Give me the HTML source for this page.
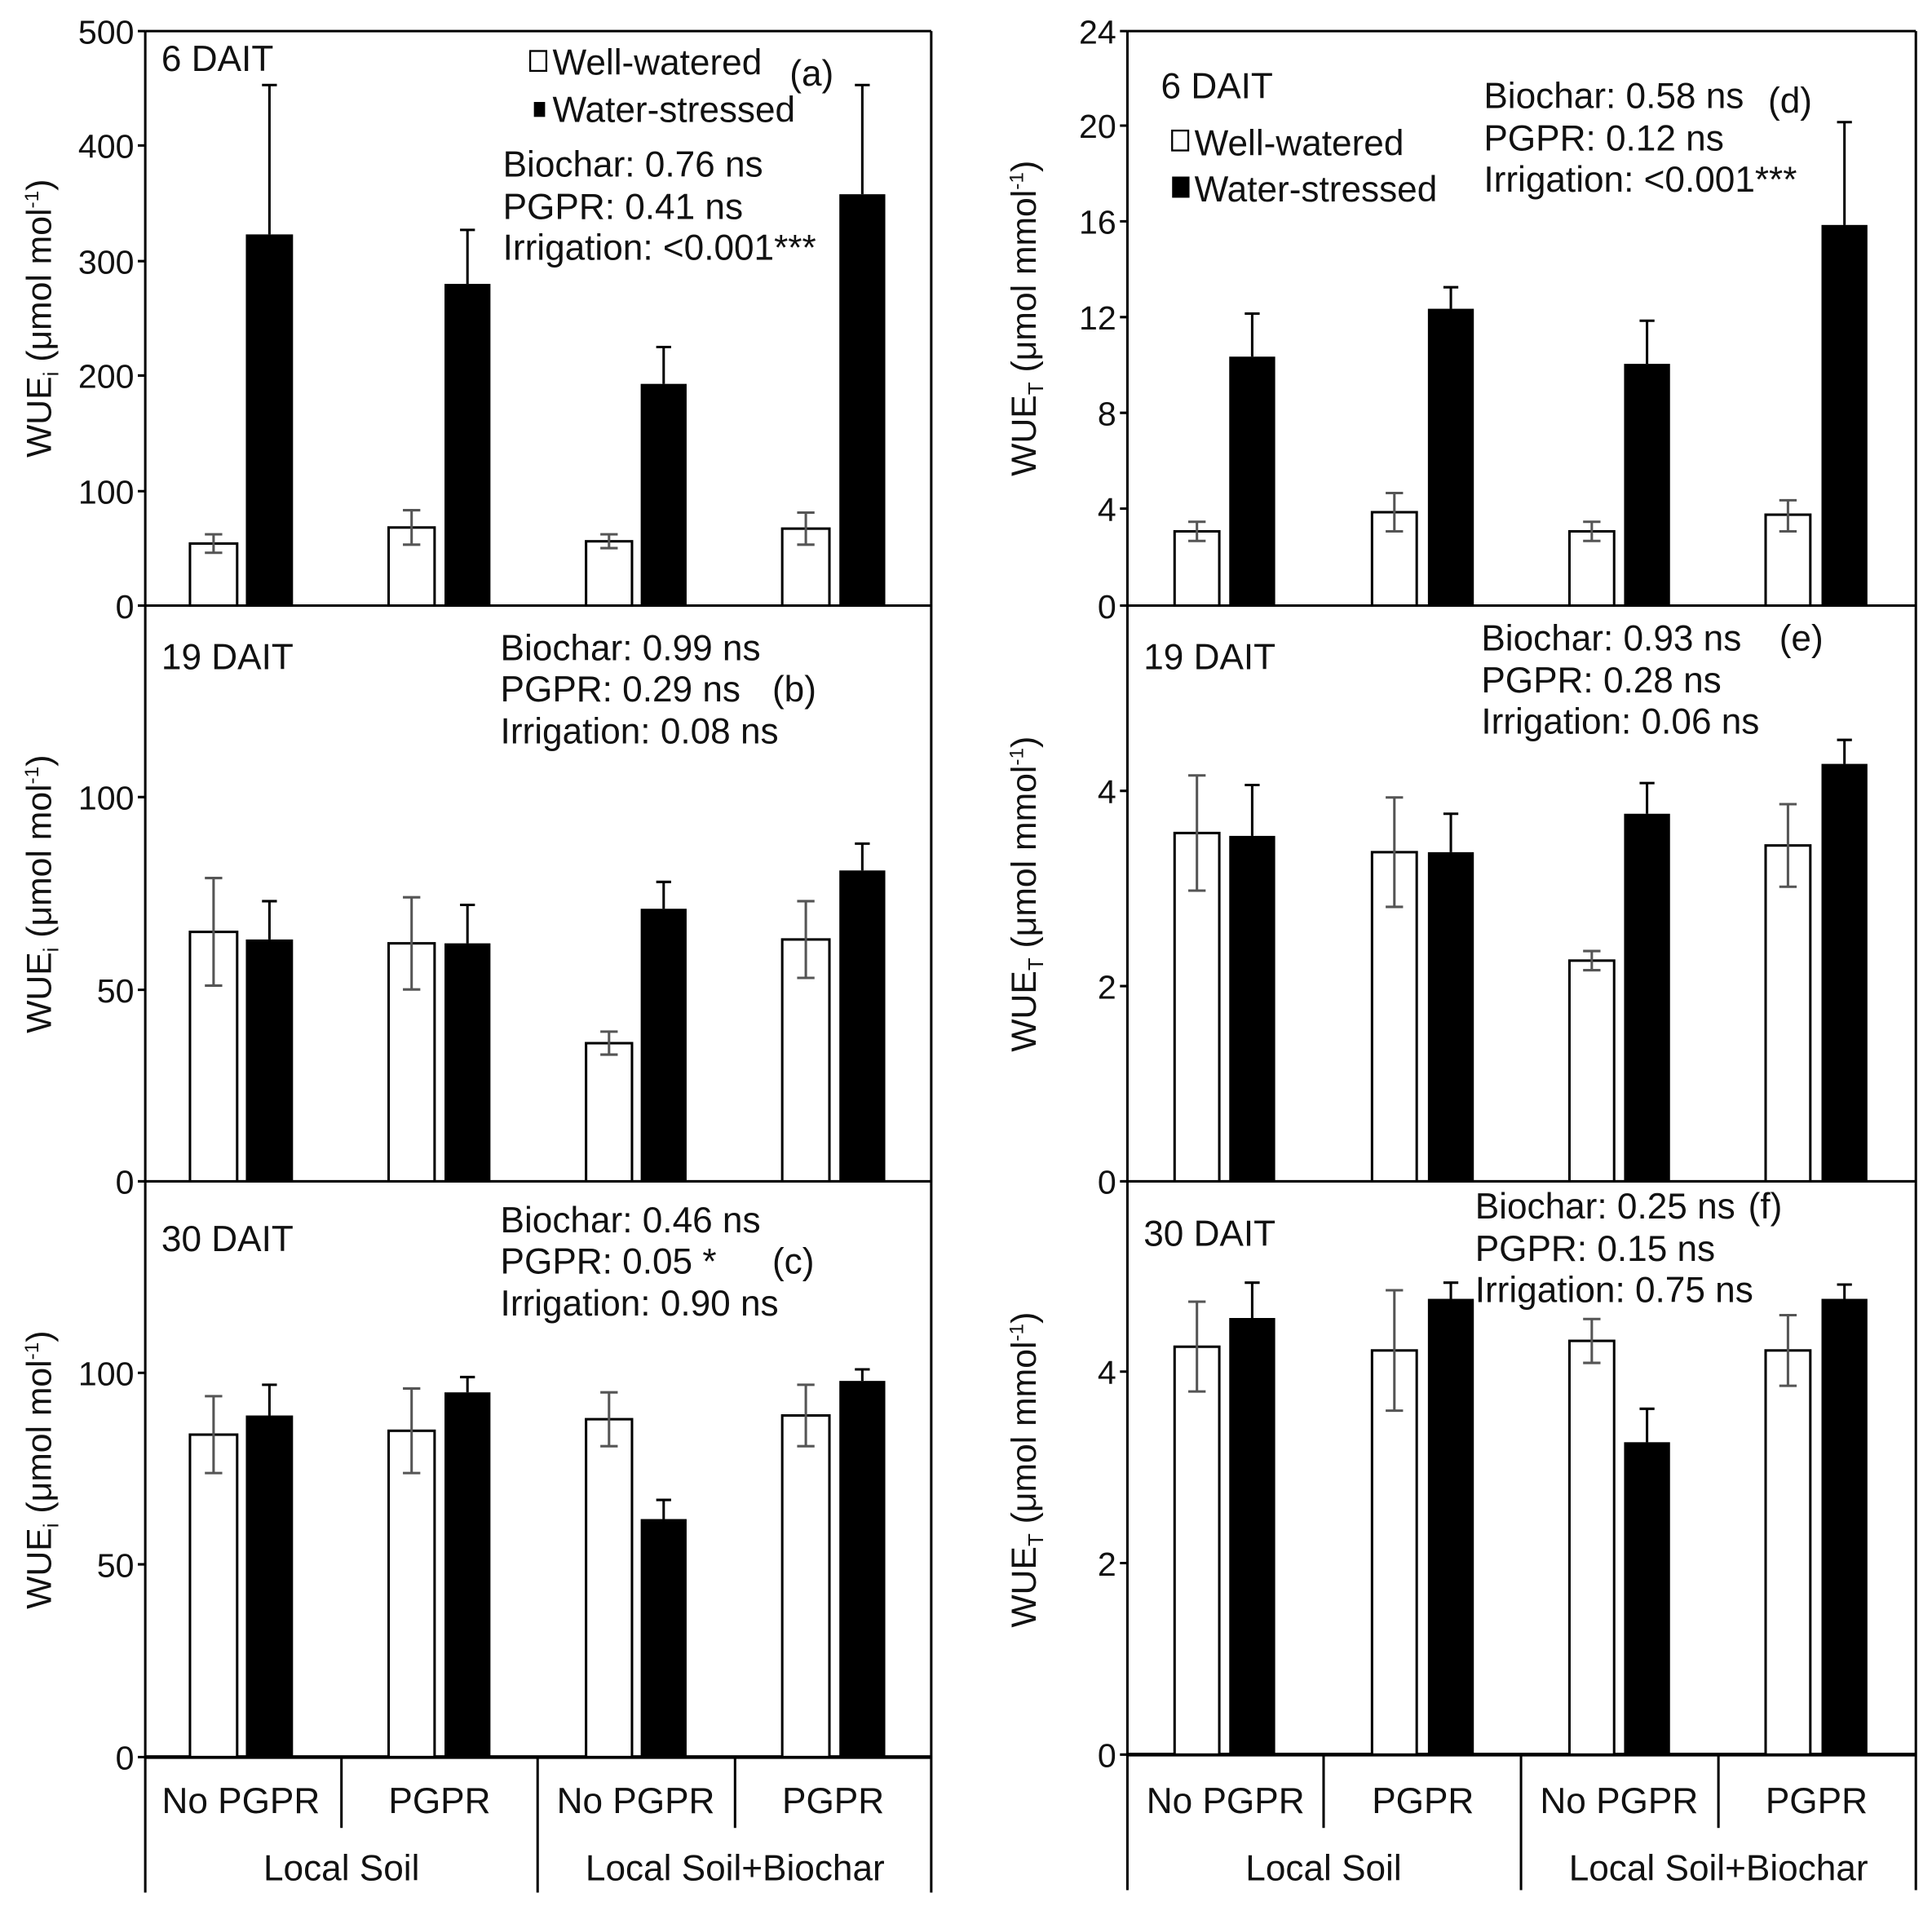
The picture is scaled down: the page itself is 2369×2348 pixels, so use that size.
<!DOCTYPE html>
<html><head><meta charset="utf-8"><style>
html,body{margin:0;padding:0;background:#fff}
svg{display:block}
text{font-family:"Liberation Sans",Arial,sans-serif;fill:#111}
</style></head><body>
<svg width="2369" height="2348" viewBox="0 0 1556 1540" preserveAspectRatio="none" xmlns="http://www.w3.org/2000/svg">
<g stroke="#000" stroke-width="2" fill="none">
<line x1="117" y1="25" x2="117" y2="1522"/>
<line x1="117" y1="25" x2="750" y2="25"/>
<line x1="750" y1="25" x2="750" y2="1522"/>
<line x1="117" y1="487" x2="750" y2="487"/>
<line x1="117" y1="950" x2="750" y2="950"/>
<line x1="117" y1="1413" x2="750" y2="1413" stroke-width="3"/>
<line x1="433" y1="1413" x2="433" y2="1522"/>
<line x1="275" y1="1413" x2="275" y2="1470"/>
<line x1="592" y1="1413" x2="592" y2="1470"/>
<path d="M111 25H117M111 117H117M111 210H117M111 302H117M111 395H117M111 487H117M111 641H117M111 796H117M111 950H117M111 1104H117M111 1258H117M111 1413H117"/>
<line x1="908" y1="25" x2="908" y2="1520"/>
<line x1="908" y1="25" x2="1543" y2="25"/>
<line x1="1543" y1="25" x2="1543" y2="1520"/>
<line x1="908" y1="487" x2="1543" y2="487"/>
<line x1="908" y1="950" x2="1543" y2="950"/>
<line x1="908" y1="1411" x2="1543" y2="1411" stroke-width="3"/>
<line x1="1225" y1="1411" x2="1225" y2="1520"/>
<line x1="1066" y1="1411" x2="1066" y2="1470"/>
<line x1="1384" y1="1411" x2="1384" y2="1470"/>
<path d="M902 25H908M902 101H908M902 178H908M902 255H908M902 332H908M902 409H908M902 487H908M902 636H908M902 793H908M902 950H908M902 1103H908M902 1257H908M902 1411H908"/>
</g>

<g fill="#fff" stroke="#000" stroke-width="2">
<rect x="153" y="437.1" width="38" height="49.9"/>
<rect x="313" y="424.2" width="37" height="62.8"/>
<rect x="472" y="435.3" width="37" height="51.7"/>
<rect x="630" y="425.1" width="38" height="61.9"/>
<rect x="153" y="749.4" width="38" height="200.6"/>
<rect x="313" y="758.6" width="37" height="191.4"/>
<rect x="472" y="838.9" width="37" height="111.1"/>
<rect x="630" y="755.5" width="38" height="194.5"/>
<rect x="153" y="1153.7" width="38" height="259.3"/>
<rect x="313" y="1150.6" width="37" height="262.4"/>
<rect x="472" y="1141.3" width="37" height="271.7"/>
<rect x="630" y="1138.3" width="38" height="274.7"/>
<rect x="946" y="427.3" width="36" height="59.7"/>
<rect x="1105" y="411.9" width="36" height="75.1"/>
<rect x="1264" y="427.3" width="36" height="59.7"/>
<rect x="1422" y="413.9" width="36" height="73.1"/>
<rect x="946" y="669.9" width="36" height="280.1"/>
<rect x="1105" y="685.3" width="36" height="264.7"/>
<rect x="1264" y="772.5" width="36" height="177.5"/>
<rect x="1422" y="679.9" width="36" height="270.1"/>
<rect x="946" y="1083" width="36" height="328"/>
<rect x="1105" y="1086" width="36" height="325"/>
<rect x="1264" y="1078.3" width="36" height="332.7"/>
<rect x="1422" y="1086" width="36" height="325"/>
</g>
<g fill="#000">
<rect x="198" y="188.5" width="38" height="298.5"/>
<rect x="358" y="228.3" width="37" height="258.7"/>
<rect x="516" y="308.7" width="37" height="178.3"/>
<rect x="676" y="156.2" width="37" height="330.8"/>
<rect x="198" y="755.5" width="38" height="194.5"/>
<rect x="358" y="758.6" width="37" height="191.4"/>
<rect x="516" y="730.8" width="37" height="219.2"/>
<rect x="676" y="700" width="37" height="250"/>
<rect x="198" y="1138.3" width="38" height="274.7"/>
<rect x="358" y="1119.7" width="37" height="293.3"/>
<rect x="516" y="1221.6" width="37" height="191.4"/>
<rect x="676" y="1110.5" width="37" height="302.5"/>
<rect x="990" y="286.8" width="37" height="200.2"/>
<rect x="1150" y="248.3" width="37" height="238.7"/>
<rect x="1308" y="292.6" width="37" height="194.4"/>
<rect x="1467" y="180.9" width="37" height="306.1"/>
<rect x="990" y="672.2" width="37" height="277.8"/>
<rect x="1150" y="685.3" width="37" height="264.7"/>
<rect x="1308" y="654.4" width="37" height="295.6"/>
<rect x="1467" y="614.3" width="37" height="335.7"/>
<rect x="990" y="1059.9" width="37" height="351.1"/>
<rect x="1150" y="1044.5" width="37" height="366.5"/>
<rect x="1308" y="1159.8" width="37" height="251.2"/>
<rect x="1467" y="1044.5" width="37" height="366.5"/>
</g>
<g stroke="#555" stroke-width="2" fill="none">
<path d="M172 444.5V429.7M165 444.5H179M165 429.7H179"/>
<path d="M331.5 438V410.3M324.5 438H338.5M324.5 410.3H338.5"/>
<path d="M490.5 440.8V429.7M483.5 440.8H497.5M483.5 429.7H497.5"/>
<path d="M649 438V412.2M642 438H656M642 412.2H656"/>
<path d="M172 792.6V706.1M165 792.6H179M165 706.1H179"/>
<path d="M331.5 795.7V721.6M324.5 795.7H338.5M324.5 721.6H338.5"/>
<path d="M490.5 848.1V829.6M483.5 848.1H497.5M483.5 829.6H497.5"/>
<path d="M649 786.4V724.7M642 786.4H656M642 724.7H656"/>
<path d="M172 1184.6V1122.8M165 1184.6H179M165 1122.8H179"/>
<path d="M331.5 1184.6V1116.6M324.5 1184.6H338.5M324.5 1116.6H338.5"/>
<path d="M490.5 1163V1119.7M483.5 1163H497.5M483.5 1119.7H497.5"/>
<path d="M649 1163V1113.6M642 1163H656M642 1113.6H656"/>
<path d="M964 435V419.6M957 435H971M957 419.6H971"/>
<path d="M1123 427.3V396.5M1116 427.3H1130M1116 396.5H1130"/>
<path d="M1282 435V419.6M1275 435H1289M1275 419.6H1289"/>
<path d="M1440 427.3V402.3M1433 427.3H1447M1433 402.3H1447"/>
<path d="M964 716.2V623.6M957 716.2H971M957 623.6H971"/>
<path d="M1123 729.3V641.3M1116 729.3H1130M1116 641.3H1130"/>
<path d="M1282 780.2V764.8M1275 780.2H1289M1275 764.8H1289"/>
<path d="M1440 713.1V646.7M1433 713.1H1447M1433 646.7H1447"/>
<path d="M964 1119V1046.8M957 1119H971M957 1046.8H971"/>
<path d="M1123 1134.4V1037.6M1116 1134.4H1130M1116 1037.6H1130"/>
<path d="M1282 1096V1060.7M1275 1096H1289M1275 1060.7H1289"/>
<path d="M1440 1114.4V1057.6M1433 1114.4H1447M1433 1057.6H1447"/>
</g>
<g stroke="#000" stroke-width="2" fill="none">
<path d="M217 188.5V68.4M211 68.4H223"/>
<path d="M376.5 228.3V184.9M370.5 184.9H382.5"/>
<path d="M534.5 308.7V279.1M528.5 279.1H540.5"/>
<path d="M694.5 156.2V68.4M688.5 68.4H700.5"/>
<path d="M217 755.5V724.7M211 724.7H223"/>
<path d="M376.5 758.6V727.7M370.5 727.7H382.5"/>
<path d="M534.5 730.8V709.2M528.5 709.2H540.5"/>
<path d="M694.5 700V678.4M688.5 678.4H700.5"/>
<path d="M217 1138.3V1113.6M211 1113.6H223"/>
<path d="M376.5 1119.7V1107.4M370.5 1107.4H382.5"/>
<path d="M534.5 1221.6V1206.2M528.5 1206.2H540.5"/>
<path d="M694.5 1110.5V1101.2M688.5 1101.2H700.5"/>
<path d="M1008.5 286.8V252.2M1002.5 252.2H1014.5"/>
<path d="M1168.5 248.3V231M1162.5 231H1174.5"/>
<path d="M1326.5 292.6V257.9M1320.5 257.9H1332.5"/>
<path d="M1485.5 180.9V98.2M1479.5 98.2H1491.5"/>
<path d="M1008.5 672.2V631.3M1002.5 631.3H1014.5"/>
<path d="M1168.5 685.3V654.4M1162.5 654.4H1174.5"/>
<path d="M1326.5 654.4V629.7M1320.5 629.7H1332.5"/>
<path d="M1485.5 614.3V595M1479.5 595H1491.5"/>
<path d="M1008.5 1059.9V1031.5M1002.5 1031.5H1014.5"/>
<path d="M1168.5 1044.5V1031.5M1162.5 1031.5H1174.5"/>
<path d="M1326.5 1159.8V1132.9M1320.5 1132.9H1332.5"/>
<path d="M1485.5 1044.5V1033M1479.5 1033H1491.5"/>
</g>

<g font-size="27" text-anchor="end">
<text x="108" y="35">500</text><text x="108" y="127">400</text><text x="108" y="220">300</text><text x="108" y="312">200</text><text x="108" y="405">100</text><text x="108" y="497">0</text>
<text x="108" y="651">100</text><text x="108" y="806">50</text><text x="108" y="960">0</text>
<text x="108" y="1114">100</text><text x="108" y="1268">50</text><text x="108" y="1423">0</text>
<text x="899" y="35">24</text><text x="899" y="111">20</text><text x="899" y="188">16</text><text x="899" y="265">12</text><text x="899" y="342">8</text><text x="899" y="419">4</text><text x="899" y="497">0</text>
<text x="899" y="646">4</text><text x="899" y="803">2</text><text x="899" y="960">0</text>
<text x="899" y="1113">4</text><text x="899" y="1267">2</text><text x="899" y="1421">0</text>
</g>

<g font-size="28" text-anchor="middle">
<text transform="translate(41,256) rotate(-90)">WUE<tspan font-size="17" dy="6">i</tspan><tspan dy="-6"> (μmol mol</tspan><tspan font-size="16" dy="-10">-1</tspan><tspan dy="10">)</tspan></text>
<text transform="translate(41,719) rotate(-90)">WUE<tspan font-size="17" dy="6">i</tspan><tspan dy="-6"> (μmol mol</tspan><tspan font-size="16" dy="-10">-1</tspan><tspan dy="10">)</tspan></text>
<text transform="translate(41,1182) rotate(-90)">WUE<tspan font-size="17" dy="6">i</tspan><tspan dy="-6"> (μmol mol</tspan><tspan font-size="16" dy="-10">-1</tspan><tspan dy="10">)</tspan></text>
<text transform="translate(834,256) rotate(-90)">WUE<tspan font-size="17" dy="6">T</tspan><tspan dy="-6"> (μmol mmol</tspan><tspan font-size="16" dy="-10">-1</tspan><tspan dy="10">)</tspan></text>
<text transform="translate(834,719) rotate(-90)">WUE<tspan font-size="17" dy="6">T</tspan><tspan dy="-6"> (μmol mmol</tspan><tspan font-size="16" dy="-10">-1</tspan><tspan dy="10">)</tspan></text>
<text transform="translate(834,1182) rotate(-90)">WUE<tspan font-size="17" dy="6">T</tspan><tspan dy="-6"> (μmol mmol</tspan><tspan font-size="16" dy="-10">-1</tspan><tspan dy="10">)</tspan></text>
</g>

<g font-size="29" text-anchor="middle">
<text x="194" y="1458">No PGPR</text><text x="354" y="1458">PGPR</text><text x="512" y="1458">No PGPR</text><text x="671" y="1458">PGPR</text>
<text x="275" y="1512">Local Soil</text><text x="592" y="1512">Local Soil+Biochar</text>
<text x="987" y="1458">No PGPR</text><text x="1146" y="1458">PGPR</text><text x="1304" y="1458">No PGPR</text><text x="1463" y="1458">PGPR</text>
<text x="1066" y="1512">Local Soil</text><text x="1384" y="1512">Local Soil+Biochar</text>
</g>

<g font-size="29">
<text x="130" y="57">6 DAIT</text>
<rect x="427" y="41" width="13" height="16" fill="#fff" stroke="#000" stroke-width="1.5"/>
<text x="445" y="60">Well-watered</text>
<rect x="430" y="82" width="9" height="12" fill="#000"/>
<text x="425" y="98" dx="20">Water-stressed</text>
<text x="636" y="69">(a)</text>
<text x="405" y="142">Biochar: 0.76 ns</text>
<text x="405" y="176">PGPR: 0.41 ns</text>
<text x="405" y="209">Irrigation: &lt;0.001***</text>

<text x="130" y="538">19 DAIT</text>
<text x="403" y="531">Biochar: 0.99 ns</text>
<text x="403" y="564">PGPR: 0.29 ns</text>
<text x="403" y="598">Irrigation: 0.08 ns</text>
<text x="622" y="564">(b)</text>

<text x="130" y="1006">30 DAIT</text>
<text x="403" y="991">Biochar: 0.46 ns</text>
<text x="403" y="1024">PGPR: 0.05 *</text>
<text x="403" y="1058">Irrigation: 0.90 ns</text>
<text x="622" y="1024">(c)</text>

<text x="935" y="79">6 DAIT</text>
<rect x="944" y="105" width="13" height="16" fill="#fff" stroke="#000" stroke-width="1.5"/>
<text x="962" y="125">Well-watered</text>
<rect x="944" y="142" width="14" height="17" fill="#000"/>
<text x="962" y="162">Water-stressed</text>
<text x="1195" y="87">Biochar: 0.58 ns</text>
<text x="1195" y="121">PGPR: 0.12 ns</text>
<text x="1195" y="154">Irrigation: &lt;0.001***</text>
<text x="1424" y="91">(d)</text>

<text x="921" y="538">19 DAIT</text>
<text x="1193" y="523">Biochar: 0.93 ns</text>
<text x="1193" y="557">PGPR: 0.28 ns</text>
<text x="1193" y="590">Irrigation: 0.06 ns</text>
<text x="1433" y="523">(e)</text>

<text x="921" y="1002">30 DAIT</text>
<text x="1188" y="980">Biochar: 0.25 ns</text>
<text x="1188" y="1014">PGPR: 0.15 ns</text>
<text x="1188" y="1047">Irrigation: 0.75 ns</text>
<text x="1408" y="980">(f)</text>
</g>
</svg>
</body></html>
